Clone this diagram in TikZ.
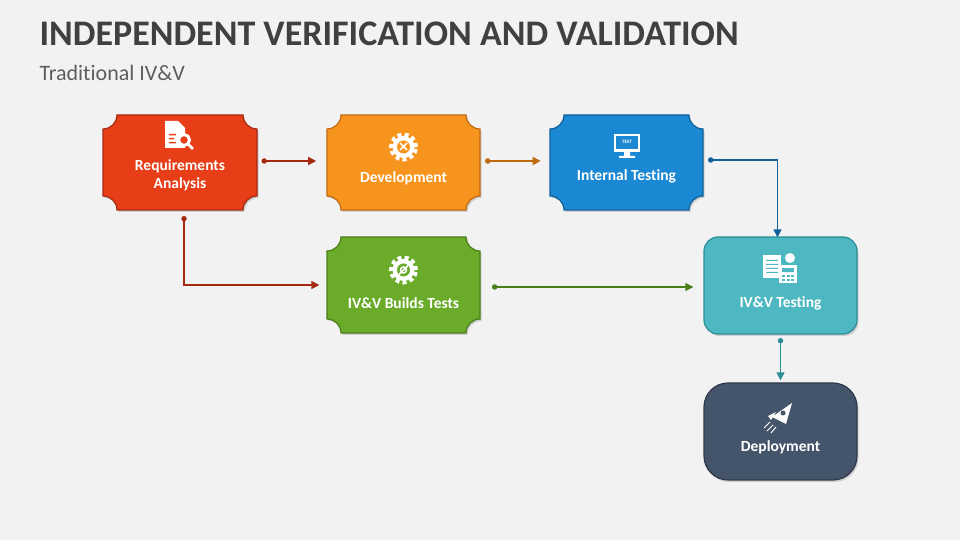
\documentclass[tikz,border=0pt]{standalone}
\usepackage{fontspec}
\setmainfont[RawFeature=-liga]{Carlito}
\usetikzlibrary{shadows,arrows.meta}
\definecolor{bg}{HTML}{F2F2F2}
\definecolor{cred}{HTML}{E73E17}\definecolor{bred}{HTML}{A52A12}
\definecolor{corg}{HTML}{F7941E}\definecolor{borg}{HTML}{C06A10}
\definecolor{cblu}{HTML}{1A88D2}\definecolor{bblu}{HTML}{11609A}
\definecolor{cgrn}{HTML}{6AAB2A}\definecolor{bgrn}{HTML}{4A7E1A}
\definecolor{ctea}{HTML}{4DB8C1}\definecolor{btea}{HTML}{2D8E97}
\definecolor{cdrk}{HTML}{44546A}\definecolor{bdrk}{HTML}{2E3A4A}
\definecolor{ttl}{HTML}{404040}
\newcommand\scallop[6]{%
 \fill[#5,draw=#6,line width=1.2pt,drop shadow={opacity=0.3,shadow xshift=1.5pt,shadow yshift=-2pt}]
 (#1,#4-14) arc[start angle=270,end angle=360,radius=14] -- (#3-14,#4)
 arc[start angle=180,end angle=270,radius=14] -- (#3,#2+14)
 arc[start angle=90,end angle=180,radius=14] -- (#1+14,#2)
 arc[start angle=0,end angle=90,radius=14] -- cycle;}
\newcommand\gearicon[3]{%
 \fill[white] (#1,#2) circle (11);
 \draw[white,line width=4pt,dash pattern=on 4pt off 3.2pt] (#1,#2) circle (12.5);
 \fill[#3] (#1,#2) circle (6.5);}
\tikzset{
 box/.style={minimum width=154pt,minimum height=96pt,inner sep=0},
 lbl/.style={text=white,font=\bfseries\fontsize{15.5}{18}\selectfont,align=center},
 con/.style={line width=1.5pt,-{Triangle[length=8pt,width=8pt]}},
 dot/.style={circle,fill,inner sep=0,minimum size=5.5pt}
}
\begin{document}
\begin{tikzpicture}[x=1pt,y=1pt]
\fill[bg] (0,0) rectangle (960,540);
\useasboundingbox (0,0) rectangle (960,540);
\node[anchor=west,text=ttl,font=\bfseries\fontsize{36}{40}\selectfont] (title) at (36,506) {INDEPENDENT VERIFICATION AND VALIDATION};
\node[anchor=west,text=ttl!85,font=\fontsize{22}{25}\selectfont] (sub) at (36,467) {Traditional IV\&V};
% boxes
\scallop{103}{330}{257}{425}{cred}{bred}
\scallop{327}{330}{480}{425}{corg}{borg}
\scallop{550}{330}{703}{425}{cblu}{bblu}
\scallop{327}{207}{480}{303}{cgrn}{bgrn}
\fill[ctea,draw=btea,line width=1.2pt,rounded corners=14pt,drop shadow={opacity=0.3,shadow xshift=1.5pt,shadow yshift=-2pt}] (704,206) rectangle (857,303);
\fill[cdrk,draw=bdrk,line width=1.2pt,rounded corners=24pt,drop shadow={opacity=0.3,shadow xshift=1.5pt,shadow yshift=-2pt}] (704,60) rectangle (857,157);
\node[box] (req) at (180,377.5) {};
\node[box] (dev) at (403.5,377.5) {};
\node[box] (int) at (626.5,377.5) {};
\node[box] (bld) at (403.5,255) {};
\node[box] (tst) at (780.5,254.5) {};
\node[box] (dep) at (780.5,108.5) {};
% labels
\node[lbl] (reqt) at (180,365) {Requirements\\Analysis};
\node[lbl] (devt) at (403.5,362) {Development};
\node[lbl] (intt) at (626.5,364) {Internal Testing};
\node[lbl] (bldt) at (403.5,237) {IV\&V Builds Tests};
\node[lbl] (tstt) at (780.5,237) {IV\&V Testing};
\node[lbl] (dept) at (780.5,93) {Deployment};
% icons
\fill[white] (165,419) -- (178,419) -- (185,412) -- (185,392) -- (165,392) -- cycle;
\fill[cred] (169,406) rectangle (176,404.5) (169,402) rectangle (174,400.5) (169,398) rectangle (176,396.5);
\draw[white,line width=3pt,fill=cred] (184,400) circle (5.5);
\draw[white,line width=2.5pt] (188,396) -- (193,391);
\gearicon{403.5}{393}{corg}
\draw[white,line width=1.5pt] (400,390) -- (407,397) (400,397) -- (407,390);
\fill[white] (614,406) rectangle (640,388);
\fill[cblu] (616,404) rectangle (638,391);
\node[text=white,font=\bfseries\fontsize{5}{5}\selectfont,inner sep=0] (testw) at (627,398) {TEST};
\fill[white] (624,388) rectangle (630,384) (619,384) rectangle (635,382);
\gearicon{403.5}{270}{cgrn}
\draw[white,line width=1.5pt] (403.5,270) circle (3) (399,265.5) -- (408,274.5);
\fill[white] (763,285) rectangle (781,262);
\fill[ctea] (766,280) rectangle (778,279) (766,276) rectangle (778,275) (766,272) rectangle (778,271) (766,268) rectangle (778,267);
\fill[white] (779,275) rectangle (797,257);
\fill[ctea] (782,272) rectangle (794,268);
\foreach \i in {0,1,2} \foreach \j in {0,1} \fill[ctea] (782+4.5*\i,265-4*\j) rectangle (785+4.5*\i,263-4*\j);
\fill[white] (790,282) circle (5);
\fill[white] (772,123) -- (792,137) -- (786,116) -- cycle;
\fill[white] (771,120) -- (776,128) -- (768,124) -- cycle;
\fill[cdrk] (783,127) circle (2.5);
\draw[white,line width=1pt] (770,118) -- (764,112) (773,115) -- (767,109) (776,113) -- (771,107);
% connectors
\draw[con,bred] (req.east) ++(7,1.5) node[dot] (d1) {} -- ++(52,0);
\draw[con,borg] (dev.east) ++(7,1.5) node[dot] (d2) {} -- ++(53,0);
\draw[con,bblu] (int.east) ++(7,2.5) node[dot] (d3) {} -| ([xshift=-3pt]tst.north);
\draw[con,bred] (req.south) ++(4,-8) node[dot] (d4) {} |- ([xshift=-7pt]bld.west);
\draw[con,bgrn] (bld.east) ++(14,-2) node[dot] (d5) {} -- ([xshift=-10pt,yshift=-1.5pt]tst.west);
\draw[con,btea] (tst.south) ++(0,-7) node[dot] (d6) {} -- ([yshift=3pt]dep.north);
\end{tikzpicture}
\end{document}
